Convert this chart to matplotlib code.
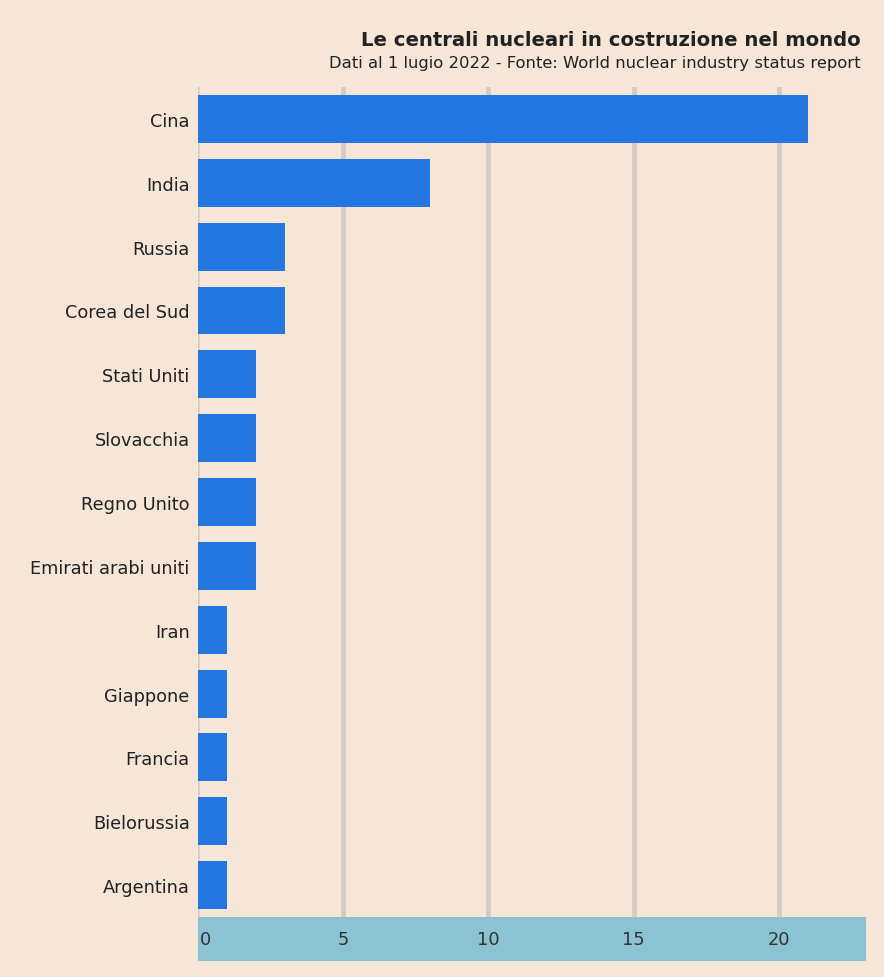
import matplotlib.pyplot as plt

plt.rcParams["font.family"] = ["DejaVu Sans"]

paesi = ["Cina", "India", "Russia", "Corea del Sud", "Stati Uniti", "Slovacchia",
         "Regno Unito", "Emirati arabi uniti", "Iran", "Giappone", "Francia",
         "Bielorussia", "Argentina"]
centrali = [21, 8, 3, 3, 2, 2, 2, 2, 1, 1, 1, 1, 1]
ticks = [0, 5, 10, 15, 20]

sfondo = "#F5E6D8"
blu = "#2477E0"
banda = "#8BC3D3"
griglia = "#D4CCC4"
testo = "#222222"

fig = plt.figure(figsize=(8.84, 9.78), dpi=100, facecolor=sfondo)
ax = fig.add_axes([0.224, 0.0613, 0.7556, 0.8487], facecolor=sfondo)
ax2 = fig.add_axes([0.224, 0.0164, 0.7556, 0.0449], facecolor=banda)

ax.barh(range(len(paesi)), centrali, height=0.75, color=blu, zorder=3)
ax.set_ylim(len(paesi) - 0.5, -0.5)
ax.set_xlim(0, 23)
ax.set_yticks(range(len(paesi)))
ax.set_yticklabels(paesi, fontsize=12.8, color=testo)
ax.tick_params(axis="y", length=0, pad=6)
ax.set_xticks([])
for t in ticks:
    ax.axvline(t, color=griglia, lw=1.8 if t == 0 else 3.5, zorder=1)
for s in ax.spines.values():
    s.set_visible(False)

ax2.set_xlim(0, 23)
ax2.set_ylim(0, 1)
ax2.set_xticks([])
ax2.set_yticks([])
for s in ax2.spines.values():
    s.set_visible(False)
for t in ticks:
    ax2.text(t + (0.25 if t == 0 else 0), 0.5, str(t), ha="center", va="center",
             fontsize=12.8, color="#333333")

fig.text(0.973, 0.959, "Le centrali nucleari in costruzione nel mondo", ha="right",
         va="center", fontsize=14.1, fontweight="bold", color=testo)
fig.text(0.973, 0.935, "Dati al 1 lugio 2022 - Fonte: World nuclear industry status report",
         ha="right", va="center", fontsize=11.8, color=testo)

fig.savefig("out.png", dpi=100, facecolor=sfondo)
